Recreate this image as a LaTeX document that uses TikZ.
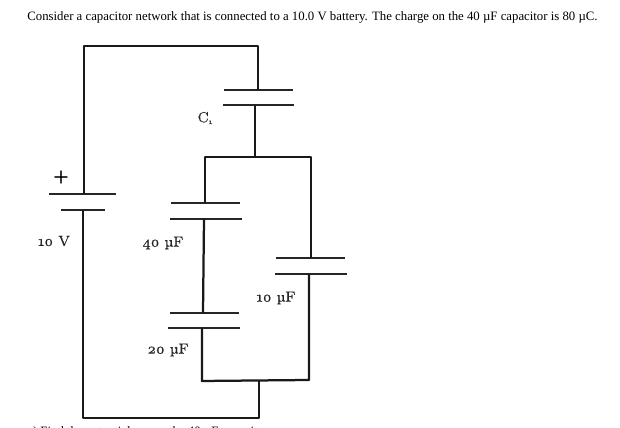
\documentclass[tikz,border=0pt]{standalone}
\usepackage{fontspec}
\usepackage{amsmath}
\usepackage{tikz}
\usepackage{xcolor}
\newfontfamily\bodyfont{Liberation Serif}
\newfontfamily\labelfont[Numbers=OldStyle,FakeBold=0.5]{Latin Modern Roman}
\newfontfamily\plusfont[FakeBold=2.5]{Latin Modern Roman}
\usetikzlibrary{positioning,calc}

\tikzset{
    wire/.style={line width=0.045cm, line join=round, color=black!90},
    plate/.style={line width=0.036cm, color=black!85},
    valuelabel/.style={font=\labelfont\fontsize{8.3pt}{9pt}\selectfont, text=black!85, inner sep=0pt},
    bodytext/.style={font=\bodyfont\fontsize{7.28pt}{9pt}\selectfont, inner sep=0pt, anchor=west}
}

\begin{document}
\begin{tikzpicture}[x=0.02cm, y=-0.02cm]
    \clip (0,0) rectangle (620,428);
    \fill[white] (0,0) rectangle (620,428);

    \node[bodytext] (intro) at (27,17) {Consider a capacitor network that is connected to a 10.0 V battery. The charge on the 40 µF capacitor is 80 µC.};
    \node[bodytext] (question) at (27,432) {a) Find the potential across the 40 µF capacitor.};

    % battery
    \coordinate (batplus) at (84,194);
    \coordinate (batminus) at (83,210);
    \draw[plate] (49,194) -- (116,194);
    \draw[plate] (61,210) -- (105,210);
    \node[font=\plusfont\fontsize{11pt}{11pt}\selectfont, inner sep=0pt] (plus) at (61,177) {+};
    \node[valuelabel] (volt) at (54,241) {10 V};

    % C1
    \coordinate (cone) at (258,90);
    \coordinate (conelow) at (255,105);
    \draw[plate] (224,90) -- (293,90);
    \draw[plate] (223,105) -- (294,105);
    \node[valuelabel] (conelabel) at (205,118) {C\raisebox{-1pt}{\fontsize{4pt}{4pt}\selectfont 1}};

    % 40 uF
    \coordinate (cforty) at (205,203);
    \coordinate (cfortylow) at (204,219);
    \draw[plate] (171,203) -- (240,203);
    \draw[plate] (170,219) -- (242,219);
    \node[valuelabel] (fortylabel) at (163,243) {40 µF};

    % 20 uF
    \coordinate (ctwenty) at (203,313);
    \coordinate (ctwentylow) at (202,328);
    \draw[plate] (170,313) -- (239,313);
    \draw[plate] (168,328) -- (240,328);
    \node[valuelabel] (twentylabel) at (168,350) {20 µF};

    % 10 uF
    \coordinate (cten) at (311,258);
    \coordinate (ctenlow) at (309,274);
    \draw[plate] (276,258) -- (345,258);
    \draw[plate] (275,274) -- (347,274);
    \node[valuelabel] (tenlabel) at (276,298) {10 µF};

    % wires
    \coordinate (topleft) at (84,46);
    \coordinate (topright) at (258,46);
    \coordinate (split) at (255,157);
    \coordinate (splitl) at (205,157);
    \coordinate (splitr) at (311,157);
    \coordinate (joinl) at (202,381);
    \coordinate (joinr) at (309,380);
    \coordinate (stub) at (259,381);
    \coordinate (botleft) at (83,418);
    \coordinate (botright) at (259,418);

    \draw[wire] (batplus) -- (topleft) -- (topright) -- (cone);
    \draw[wire] (conelow) -- (split);
    \draw[wire] (cforty) -- (splitl) -- (splitr) -- (cten);
    \draw[wire] (cfortylow) -- (ctwenty);
    \draw[wire] (ctwentylow) -- (joinl) -- (joinr) -- (ctenlow);
    \draw[wire] (stub) -- (botright) -- (botleft) -- (batminus);
\end{tikzpicture}
\end{document}
